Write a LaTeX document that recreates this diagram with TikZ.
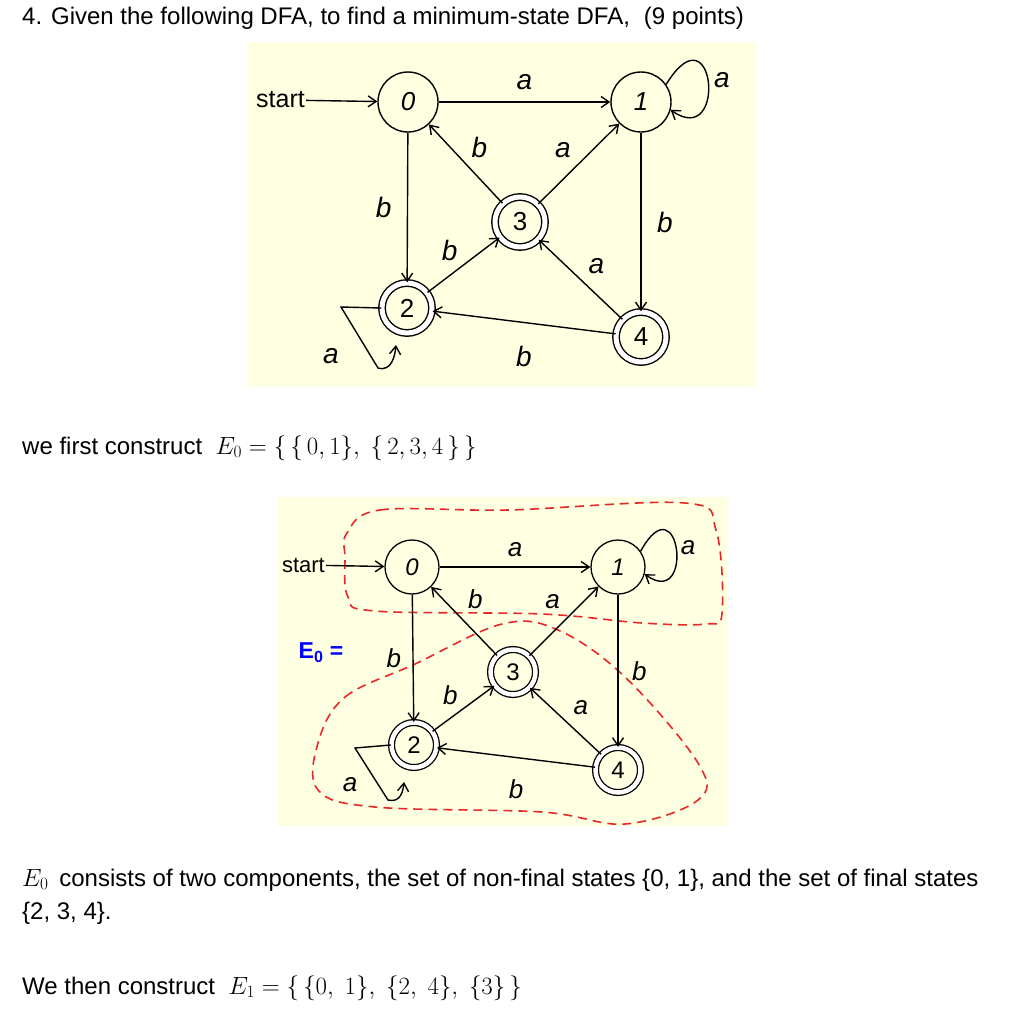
\documentclass[tikz,border=0pt]{standalone}
\usepackage{fontspec}
\setmainfont{Liberation Sans}
\setsansfont{Liberation Sans}
\usetikzlibrary{arrows.meta,positioning}
\definecolor{bgy}{RGB}{255,255,226}
\definecolor{dred}{RGB}{230,40,40}
\tikzset{
 st/.style={circle,draw,line width=1.4pt,minimum size=60pt,inner sep=0pt,font=\fontsize{26}{26}\selectfont},
 acc/.style={st,double,double distance=5pt,minimum size=50pt},
 stb/.style={circle,draw,line width=1.3pt,minimum size=54pt,inner sep=0pt,font=\fontsize{24}{24}\selectfont},
 accb/.style={stb,double,double distance=4.5pt,minimum size=45pt},
 tr/.style={line width=1.4pt,-{Straight Barb[length=8pt,width=11pt,line width=1.4pt]}},
 lab/.style={font=\fontsize{28}{28}\selectfont\itshape},
 labb/.style={font=\fontsize{26}{26}\selectfont\itshape},
 txt/.style={anchor=west,inner sep=0pt,font=\fontsize{24}{28}\selectfont},
 reg/.style={dred,dashed,line width=1.6pt,dash pattern=on 9pt off 6pt}
}
\begin{document}
\begin{tikzpicture}[x=1pt,y=-1pt]
\useasboundingbox[fill=white] (0,0) rectangle (1024,1018);
% texts
\node[txt] (t1) at (22,18) {4. Given the following DFA, to find a minimum-state DFA,\hspace{14pt}(9 points)};
\node[txt] (t2) at (22,448) {we first construct \ $E_0=\{\,\{\,0,1\},\ \{\,2,3,4\,\}\,\}$};
\node[txt] (t3) at (22,880) {$E_0$\, consists of two components, the set of non-final states \{0, 1\}, and the set of final states};
\node[txt] (t4) at (22,913) {\{2, 3, 4\}.};
\node[txt] (t5) at (22,988) {We then construct \ $E_1=\{\,\{0,\ 1\},\ \{2,\ 4\},\ \{3\}\,\}$};
% diagram 1
\fill[bgy] (248,42) rectangle (755,387);
\node[st] (a0) at (408,102) {\itshape 0};
\node[st] (a1) at (641,102) {\itshape 1};
\node[acc] (a2) at (407,308) {2};
\node[acc] (a3) at (520,222) {3};
\node[acc] (a4) at (641,337) {4};
\node[font=\fontsize{25}{25}\selectfont,anchor=east,inner sep=1pt] (as) at (306,100) {start};
\draw[tr] (as) -- (a0);
\draw[tr] (a0) -- node[lab,above=8pt]{a} (a1);
\draw[tr] (a0) -- node[lab,left=12pt]{b} (a2);
\draw[tr] (a1) -- node[lab,right=12pt]{b} (a4);
\draw[tr] (a3) -- node[lab,above right=2pt and 2pt]{b} (a0);
\draw[tr] (a3) -- node[lab,above left=2pt and 4pt]{a} (a1);
\draw[tr] (a2) -- node[lab,above left=0pt and 2pt]{b} (a3);
\draw[tr] (a4) -- node[lab,above right=2pt and 4pt]{a} (a3);
\draw[tr] (a4) -- node[lab,below=20pt]{b} (a2);
\draw[tr] (a1.35) .. controls (715,5) and (728,150) .. (a1.-15);
\node[lab] (la1) at (722,80) {a};
\draw[tr] (a2.180) -- (341,307) -- (378,368) .. controls (392,372) and (395,355) .. (396,345);
\node[lab] (la2) at (331,356) {a};
% diagram 2
\fill[bgy] (278,497) rectangle (727,826);
\draw[reg] plot[smooth cycle,tension=0.6] coordinates {(347,533) (380,510) (508,510) (685,503) (716,530) (722,613) (706,624) (642,623) (542,614) (375,611) (348,597) (345,557)};
\draw[reg] plot[smooth cycle,tension=0.6] coordinates {(318,743) (345,697) (415,664) (502,624) (558,630) (625,677) (698,763) (698,800) (625,824) (542,812) (375,807) (318,790)};
\node[stb] (b0) at (412,567) {\itshape 0};
\node[stb] (b1) at (618,567) {\itshape 1};
\node[accb] (b2) at (414,745) {2};
\node[accb] (b3) at (513,672) {3};
\node[accb] (b4) at (618,770) {4};
\node[font=\fontsize{22}{22}\selectfont,anchor=east,inner sep=1pt] (bs) at (326,565) {start};
\node[font=\fontsize{23}{23}\selectfont\bfseries,text=blue] (e0) at (321,653) {E\textsubscript{0} =};
\draw[tr] (bs) -- (b0);
\draw[tr] (b0) -- node[labb,above=6pt]{a} (b1);
\draw[tr] (b0) -- node[labb,left=8pt]{b} (b2);
\draw[tr] (b1) -- node[labb,right=10pt]{b} (b4);
\draw[tr] (b3) -- node[labb,above right=8pt and 0pt]{b} (b0);
\draw[tr] (b3) -- node[labb,above left=8pt and 0pt]{a} (b1);
\draw[tr] (b2) -- node[labb,above left=0pt and 2pt]{b} (b3);
\draw[tr] (b4) -- node[labb,above right=2pt and 4pt]{a} (b3);
\draw[tr] (b4) -- node[labb,below=18pt]{b} (b2);
\draw[tr] (b1.35) .. controls (680,480) and (695,610) .. (b1.-15);
\node[labb] (lb1) at (688,548) {a};
\draw[tr] (b2.180) -- (355,748) -- (388,800) .. controls (400,803) and (403,792) .. (404,782);
\node[labb] (lb2) at (350,785) {a};
\end{tikzpicture}
\end{document}
